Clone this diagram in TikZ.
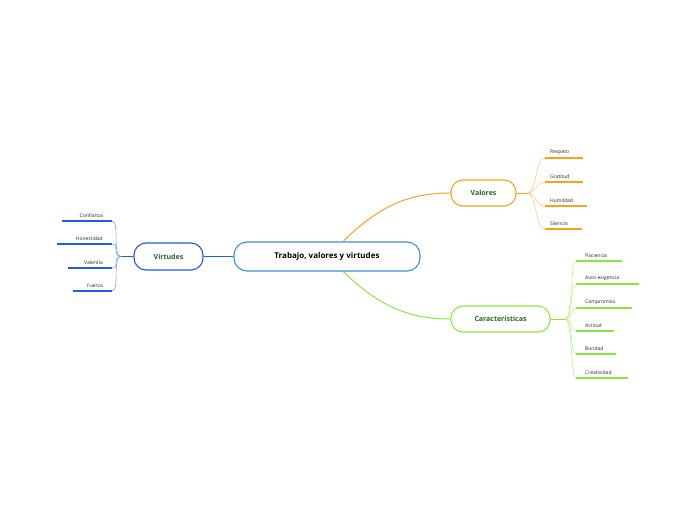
\documentclass[tikz,border=0pt]{standalone}
\usepackage{fontspec}
\setmainfont{Open Sans}
\begin{document}
\begin{tikzpicture}[x=1pt,y=-1pt,
  main/.style={draw=#1,line width=1.1pt,rounded corners=13pt,fill=white,font=\bfseries\fontsize{8}{9}\selectfont,text=black},
  sub/.style={draw=#1,line width=1.1pt,rounded corners=12pt,fill=white,font=\bfseries\fontsize{7}{8}\selectfont,text=green!30!black!85},
  leaf/.style={font=\fontsize{5}{6}\selectfont,text=black!85,anchor=south west,inner sep=1pt},
  uline/.style={draw=#1,line width=1.2pt}]
\definecolor{cor}{HTML}{F7A21B}
\definecolor{cgr}{HTML}{8BE83A}
\definecolor{cbl}{HTML}{1E5BE6}
\definecolor{cce}{HTML}{3C8FD6}
\definecolor{clor}{HTML}{FBCB83}
\definecolor{clgr}{HTML}{B8F48A}
\definecolor{clbl}{HTML}{7FA3F2}
\useasboundingbox (0,0) rectangle (697,520);
\node[main=cce,minimum width=186pt,minimum height=29pt] (c) at (327,256.5) {Trabajo, valores y virtudes};
\node[sub=cbl,minimum width=69pt,minimum height=27pt] (vi) at (168.5,256.5) {Virtudes};
\node[sub=cor,minimum width=65pt,minimum height=26pt] (va) at (483.5,193) {Valores};
\node[sub=cgr,minimum width=99pt,minimum height=26pt] (ca) at (500.5,319) {Características};
\coordinate (c1) at (343,241.5);
\coordinate (c2) at (343,271.5);
\draw[cor,line width=1pt] (c1) .. controls (380,205) and (410,193) .. (va.west);
\draw[cgr,line width=1pt] (c2) .. controls (380,307) and (410,319) .. (ca.west);
\draw[cbl,line width=1pt] (vi.east) -- (c.west);
% Valores leaves
\coordinate (vah) at (527,193);
\draw[cor,line width=1pt] (va.east) -- (vah);
\foreach \n/\t/\y/\e in {r1/Respeto/158/583,r2/Gratitud/182/583,r3/Humildad/206/587,r4/Silencio/229/582}{
  \coordinate (\n a) at (545,\y); \coordinate (\n b) at (\e,\y);
  \draw[uline=cor] (\n a) -- (\n b);
  \node[leaf] (\n) at (549,\y-2) {\t};
  \draw[clor,line width=0.6pt] (vah) .. controls (537,193) and (535,\y) .. (\n a);
}
% Caracteristicas leaves
\coordinate (cah) at (565,319);
\draw[cgr,line width=1pt] (ca.east) -- (cah);
\foreach \n/\t/\y/\e in {k1/Paciencia/261/622,k2/Auto exigencia/284/639,k3/Compromiso/308/632,k4/Actitud/331/614,k5/Bondad/354/616,k6/Creatividad/378/628}{
  \coordinate (\n a) at (576,\y); \coordinate (\n b) at (\e,\y);
  \draw[uline=cgr] (\n a) -- (\n b);
  \node[leaf] (\n) at (584,\y-2) {\t};
  \draw[clgr,line width=0.6pt] (cah) .. controls (573,319) and (570,\y) .. (\n a);
}
% Virtudes leaves
\coordinate (vih) at (121,256.5);
\draw[cbl,line width=1pt] (vi.west) -- (vih);
\foreach \n/\t/\y/\s in {v1/Confianza/221/62,v2/Honestidad/244/57,v3/Valentía/268/68,v4/Fuerza/291/73}{
  \coordinate (\n a) at (112,\y); \coordinate (\n b) at (\s,\y);
  \draw[uline=cbl] (\n a) -- (\n b);
  \node[leaf,anchor=south east] (\n) at (104,\y-2) {\t};
  \draw[clbl,line width=0.6pt] (vih) .. controls (112,256.5) and (120,\y) .. (\n a);
}
\end{tikzpicture}
\end{document}
